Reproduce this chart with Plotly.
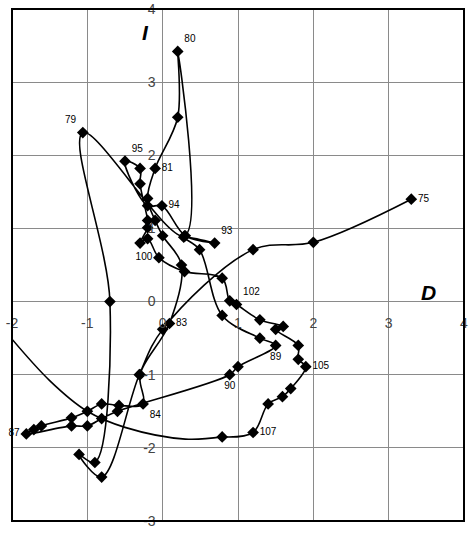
import plotly.graph_objects as go

# trajectory in the D-I plane (in drawing order)
d_vals = [3.3, 2.0, 1.2, 0.0, -0.31, -0.81, -1.11, -0.9, -0.7, -1.06,
          0.29, 0.2, 0.2, -0.1, -0.2, -0.1, 0.0, 0.25, 0.09, -0.3,
          -0.26, -0.58, -0.81, -1.0, -1.21, -1.61, -1.71, -1.81, -1.21, -1.0,
          -0.81, -0.6, 0.89, 1.0, 1.5, 1.29, 0.79, 0.49, 0.28, 0.69,
          0.3, -0.01, -0.2, -0.5, -0.3, -0.3, -0.2, -0.2, -0.3, -0.2,
          -0.05, 0.29, 0.79, 0.89, 0.98, 1.29, 1.6, 1.5, 1.8, 1.8,
          1.9, 1.7, 1.59, 1.4, 1.2, 0.79]
i_vals = [1.4, 0.81, 0.71, -0.38, -1.0, -2.4, -2.09, -2.2, 0.0, 2.31,
          0.9, 3.42, 2.52, 1.82, 1.41, 1.11, 0.9, 0.5, -0.3, -1.0,
          -1.4, -1.42, -1.4, -1.5, -1.59, -1.7, -1.75, -1.81, -1.7, -1.7,
          -1.6, -1.5, -1.0, -0.89, -0.6, -0.5, -0.19, 0.71, 0.88, 0.8,
          0.9, 1.31, 1.31, 1.92, 1.82, 1.61, 1.11, 1.01, 0.8, 0.86,
          0.6, 0.41, 0.32, 0.01, -0.04, -0.25, -0.34, -0.38, -0.6, -0.79,
          -0.89, -1.19, -1.3, -1.4, -1.79, -1.85]
point_labels = ['75', '', '', '', '', '', '', '', '', '79',
                '', '80', '', '81', '', '', '', '', '83', '',
                '84', '', '', '', '', '', '', '87', '', '',
                '', '', '90', '', '89', '', '', '', '', '93',
                '', '94', '', '95', '', '', '', '', '', '',
                '100', '', '', '', '102', '', '', '', '', '',
                '105', '', '', '', '107', '']
label_pos = {'75': 'middle right', '79': 'top left', '80': 'top right', '81': 'middle right',
             '83': 'middle right', '84': 'bottom right', '87': 'middle left', '89': 'bottom center',
             '90': 'bottom center', '93': 'top right', '94': 'middle right', '95': 'top right',
             '100': 'middle left', '102': 'top right', '105': 'middle right', '107': 'middle right'}

# last stretch of the curve running out through the left edge (no markers)
tail_d = [0.79, 0.3, -0.5, -1.0, -1.5, -2.15]
tail_i = [-1.85, -1.88, -1.72, -1.5, -1.08, -0.33]

x_ticks = [-2, -1, 0, 1, 2, 3, 4]
x_ticktext = ['-2', '-1', '0', '1', '2', '3', '4']
y_ticks = [-3, -2, -1, 0, 1, 2, 3, 4]
y_ticktext = ['-3', '-2', '-1', '0', '1', '2', '3', '4']

font = 'Arial, Liberation Sans, sans-serif'

fig = go.Figure()

fig.add_trace(go.Scatter(
    x=tail_d, y=tail_i,
    mode='lines',
    line=dict(color='black', width=1.6, shape='spline', smoothing=1),
    hoverinfo='skip',
    showlegend=False
))

fig.add_trace(go.Scatter(
    x=d_vals, y=i_vals,
    mode='lines+markers+text',
    line=dict(color='black', width=1.6, shape='spline', smoothing=1),
    marker=dict(symbol='diamond', size=9, color='black'),
    text=point_labels,
    textposition=[label_pos.get(t, 'middle right') for t in point_labels],
    textfont=dict(family=font, size=10, color='black'),
    cliponaxis=False,
    showlegend=False
))

fig.update_layout(
    width=474, height=545,
    margin=dict(l=12, r=10, t=9, b=24),
    paper_bgcolor='white',
    plot_bgcolor='white',
    font=dict(family=font),
    xaxis=dict(
        range=[-2, 4],
        tickvals=x_ticks, ticktext=x_ticktext,
        showgrid=True, gridcolor='#8a8a8a', gridwidth=1,
        zeroline=False, showline=False, ticks='',
        anchor='free', position=3 / 7, automargin=False,
        ticklabelstandoff=11,
        tickfont=dict(size=14, color='#444444'),
    ),
    yaxis=dict(
        range=[-3, 4],
        tickvals=y_ticks, ticktext=y_ticktext,
        showgrid=True, gridcolor='#8a8a8a', gridwidth=1,
        zeroline=False, showline=False, ticks='',
        anchor='free', position=1 / 3, automargin=False,
        ticklabelstandoff=7,
        tickfont=dict(size=14, color='#444444'),
    ),
    shapes=[dict(type='rect', xref='paper', yref='paper', x0=0, x1=1, y0=0, y1=1,
                 line=dict(color='black', width=2))],
    annotations=[
        dict(x=-0.23, y=3.68, xref='x', yref='y', text='<b><i>I</i></b>', showarrow=False,
             font=dict(size=21, color='black', family=font)),
        dict(x=3.53, y=0.13, xref='x', yref='y', text='<b><i>D</i></b>', showarrow=False,
             font=dict(size=21, color='black', family=font)),
    ],
)

# drop the browser's default page margin so the figure sits at the window corner
fig.write_html('out.html', config={'displayModeBar': False},
               post_script="document.body.style.margin='0';")
